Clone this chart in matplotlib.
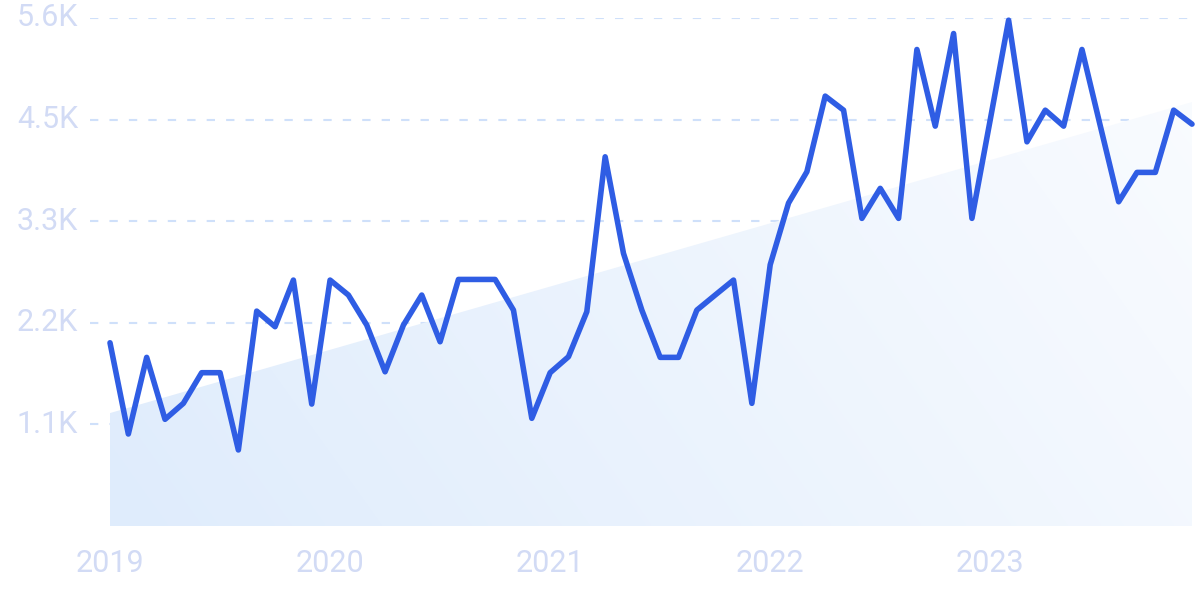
import matplotlib
matplotlib.use("Agg")
import matplotlib.pyplot as plt
import numpy as np
from matplotlib.colors import LinearSegmentedColormap

plt.rcParams['lines.scale_dashes'] = False

# ---- data (monthly, Jan 2019 .. Dec 2023) ----
values = [2020, 1014, 1859, 1176, 1352, 1690, 1690, 838, 2369, 2197, 2711, 1344,
          2711, 2546, 2215, 1700, 2215, 2546, 2031, 2718, 2718, 2718, 2380, 1187,
          1690, 1866, 2362, 4070, 3005, 2380, 1859, 1859, 2380, 2546, 2711, 1352,
          2880, 3560, 3905, 4739, 4584, 3391, 3722, 3391, 5253, 4408, 5429, 3391,
          4480, 5576, 4235, 4584, 4408, 5253, 4410, 3574, 3898, 3898, 4584, 4430]
trend_start = 1245
trend_end = 4673
year_labels = ["2019", "2020", "2021", "2022", "2023"]
year_positions = [0, 12, 24, 36, 48]
ytick_values = [1120, 2240, 3360, 4480, 5600]
ytick_labels = ["1.1K", "2.2K", "3.3K", "4.5K", "5.6K"]

W, H = 1200, 599
fig = plt.figure(figsize=(W / 100, H / 100), dpi=100)
left_px, right_px = 90, 1192
bottom_px, top_px = 526, 18
ax = fig.add_axes([left_px / W, (H - bottom_px) / H,
                   (right_px - left_px) / W, (bottom_px - top_px) / H])

x = np.arange(len(values))
n = len(values)
ax.set_xlim(-20 / 18.34, n - 1)
ax.set_ylim(0, 5600)
for s in ax.spines.values():
    s.set_visible(False)
ax.set_xticks([])
ax.set_yticks([])

# gridlines
for yv in ytick_values:
    ax.axhline(yv, color='#CFE0FA', lw=1.5, dashes=(6, 8), zorder=1)

# trend fill with gradient
trend = np.linspace(trend_start, trend_end, n)
poly = ax.fill_between(x, 0, trend, color='none', lw=0, zorder=2)
cmap = LinearSegmentedColormap.from_list('g', ['#DFECFC', '#FAFCFF'])
gx, gy = np.meshgrid(np.linspace(0, 1, 300), np.linspace(0, 1, 150))
grad = 0.75 * gx + 0.25 * (1 - gy)
img = ax.imshow(grad, extent=[0, n - 1, 0, 5600], origin='upper', cmap=cmap,
                aspect='auto', zorder=2, interpolation='bilinear')
img.set_clip_path(poly.get_paths()[0], transform=ax.transData)
ax.set_xlim(-20 / 18.34, n - 1)
ax.set_ylim(0, 5600)

# main line
ax.plot(x, values, color='#2F5DE4', lw=4, solid_joinstyle='round',
        solid_capstyle='round', zorder=4, clip_on=False)

txt_color = '#D2DBF5'
font = 'Roboto'
for yv, lab in zip(ytick_values, ytick_labels):
    ax.text(-32 / 18.34, yv, lab, ha='right', va='center', fontsize=22,
            color=txt_color, family=font)
for xv, lab in zip(year_positions, year_labels):
    ax.text(xv, -410, lab, ha='center', va='center', fontsize=22,
            color=txt_color, family=font, clip_on=False)

fig.savefig('out.png', dpi=100)
